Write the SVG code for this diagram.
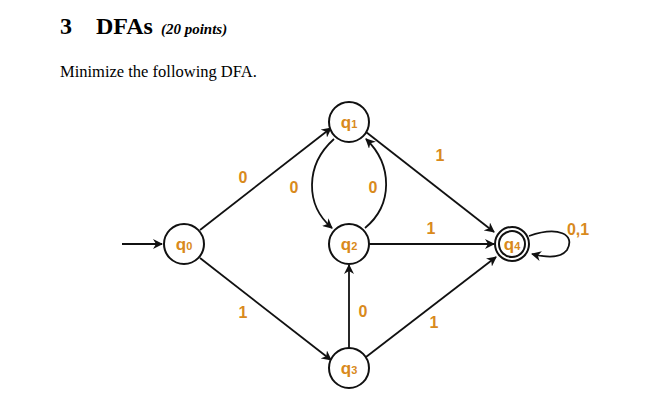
<svg xmlns="http://www.w3.org/2000/svg" width="668" height="401" viewBox="0 0 668 401">
<style>
.n{fill:#fff;stroke:#111;stroke-width:2}
.e{fill:none;stroke:#111;stroke-width:1.8;marker-end:url(#a)}
.t{font-family:"Liberation Sans",Arial,sans-serif;font-weight:bold;font-size:16px;fill:#d98a1c;text-anchor:middle}
.nl{font-family:"Liberation Sans",Arial,sans-serif;font-weight:bold;font-size:17px;fill:#d98a1c;text-anchor:middle}
.s{font-size:11px}
</style>
<defs><marker id="a" viewBox="0 0 10 10" refX="9" refY="5" markerWidth="10" markerHeight="10" markerUnits="userSpaceOnUse" orient="auto"><path d="M0,0 L10,5 L0,10 L3,5 z" fill="#111"/></marker></defs>
<rect width="668" height="401" fill="#fff"/>
<text x="60" y="34" font-family="Liberation Serif,serif" font-weight="bold" font-size="24">3<tspan dx="24">DFAs</tspan><tspan dx="8" font-size="15" font-style="italic">(20 points)</tspan></text>
<text x="60" y="77" font-family="Liberation Serif,serif" font-size="16.5">Minimize the following DFA.</text>
<g id="edges">
<path class="e" d="M122,244 L162,244"/>
<path class="e" d="M200,230 L331,128"/>
<path class="e" d="M200,258 L331,360"/>
<path class="e" d="M366,132 L494,232"/>
<path class="e" d="M369,244 L494,244"/>
<path class="e" d="M366,357 L496,257"/>
<path class="e" d="M349,348 L349,265"/>
<path class="e" d="M334,139 C305,165 305,205 332,228"/>
<path class="e" d="M365,228 C393,205 393,165 366,139"/>
<path class="e" d="M529,236 C558,226 576,234 567,250 C561,258 548,258 532,254"/>
</g>
<g id="labels">
<text class="t" x="243" y="183">0</text>
<text class="t" x="440" y="161">1</text>
<text class="t" x="294" y="193">0</text>
<text class="t" x="373" y="193">0</text>
<text class="t" x="431" y="234">1</text>
<text class="t" x="578" y="235">0,1</text>
<text class="t" x="243" y="318">1</text>
<text class="t" x="363" y="317">0</text>
<text class="t" x="434" y="328">1</text>
</g>
<g id="q0"><circle class="n" cx="184" cy="244" r="20"/><text class="nl" x="184" y="250">q<tspan class="s">0</tspan></text></g>
<g id="q1"><circle class="n" cx="349" cy="122" r="20"/><text class="nl" x="349" y="128">q<tspan class="s">1</tspan></text></g>
<g id="q2"><circle class="n" cx="349" cy="244" r="20"/><text class="nl" x="349" y="250">q<tspan class="s">2</tspan></text></g>
<g id="q3"><circle class="n" cx="349" cy="368" r="20"/><text class="nl" x="349" y="374">q<tspan class="s">3</tspan></text></g>
<g id="q4"><circle class="n" cx="512" cy="244" r="17"/><circle class="n" cx="512" cy="244" r="13"/><text class="nl" x="512" y="250">q<tspan class="s">4</tspan></text></g>
</svg>
